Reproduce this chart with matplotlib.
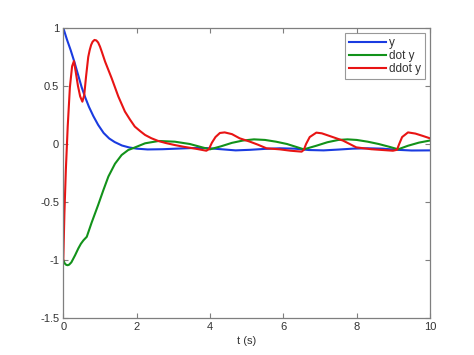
import matplotlib
matplotlib.use("Agg")
import matplotlib.pyplot as plt

# ---- data ----
t_y = [0, 0.1, 0.2, 0.3, 0.4, 0.5, 0.6, 0.7, 0.82, 0.95, 1.1, 1.25, 1.4, 1.6, 1.8, 2.0,
       2.3, 2.7, 3.1, 3.5, 3.9, 4.3, 4.7, 5.1, 5.5, 5.9, 6.3, 6.7, 7.1, 7.5, 7.9, 8.3,
       8.7, 9.1, 9.5, 10]
v_y = [1.0, 0.9, 0.81, 0.71, 0.6, 0.49, 0.4, 0.32, 0.24, 0.165, 0.095, 0.048, 0.017, -0.013,
       -0.03, -0.04, -0.047, -0.045, -0.04, -0.035, -0.035, -0.045, -0.055, -0.05, -0.042,
       -0.037, -0.04, -0.052, -0.055, -0.048, -0.04, -0.037, -0.04, -0.05, -0.056, -0.055]

t_dy = [0, 0.04, 0.08, 0.12, 0.16, 0.22, 0.32, 0.41, 0.48, 0.55, 0.64, 0.77, 0.95, 1.09,
        1.23, 1.41, 1.59, 1.77, 1.95, 2.23, 2.6, 3.04, 3.45, 3.8, 4.0, 4.3, 4.6, 4.9, 5.2,
        5.5, 5.8, 6.1, 6.4, 6.56, 6.9, 7.2, 7.5, 7.75, 8.0, 8.3, 8.6, 8.9, 9.13, 9.4, 9.7, 10]
v_dy = [-1.0, -1.03, -1.042, -1.045, -1.04, -1.02, -0.96, -0.9, -0.86, -0.83, -0.8, -0.68,
        -0.526, -0.4, -0.28, -0.17, -0.095, -0.052, -0.03, 0.006, 0.026, 0.02, 0.0, -0.03,
        -0.046, -0.02, 0.01, 0.03, 0.04, 0.035, 0.02, 0.0, -0.03, -0.046, -0.015, 0.015,
        0.035, 0.04, 0.035, 0.02, 0.0, -0.025, -0.046, -0.015, 0.012, 0.03]

t_ddy = [0, 0.03, 0.07, 0.12, 0.18, 0.24, 0.29, 0.34, 0.4, 0.46, 0.52, 0.57, 0.62, 0.68,
         0.72, 0.76, 0.8, 0.85, 0.9, 0.95, 1.0, 1.05, 1.14, 1.32, 1.5, 1.68, 1.82, 1.95,
         2.1, 2.23, 2.4, 2.59, 2.8, 3.04, 3.3, 3.6, 3.9, 3.97, 4.05, 4.15, 4.27, 4.4, 4.6,
         4.81, 5.09, 5.3, 5.54, 5.9, 6.2, 6.5, 6.56, 6.62, 6.72, 6.9, 7.05, 7.3, 7.63, 7.99,
         8.4, 8.99, 9.1, 9.16, 9.24, 9.4, 9.6, 9.8, 10]
v_ddy = [-1.0, -0.6, -0.22, 0.15, 0.49, 0.67, 0.715, 0.62, 0.5, 0.41, 0.365, 0.42, 0.58,
         0.75, 0.81, 0.855, 0.882, 0.897, 0.893, 0.875, 0.84, 0.795, 0.71, 0.566, 0.41,
         0.28, 0.21, 0.15, 0.11, 0.078, 0.05, 0.026, 0.008, -0.009, -0.025, -0.04, -0.058,
         -0.045, 0.01, 0.06, 0.095, 0.1, 0.085, 0.049, 0.02, -0.005, -0.037, -0.046, -0.058,
         -0.066, -0.05, 0.0, 0.06, 0.098, 0.092, 0.065, 0.029, -0.029, -0.045, -0.058, -0.05,
         0.0, 0.06, 0.1, 0.09, 0.07, 0.049]

labels = ["y", "dot y", "ddot y"]
x_ticks = [0, 2, 4, 6, 8, 10]
y_ticks = [-1.5, -1, -0.5, 0, 0.5, 1]
y_tick_labels = ["-1.5", "-1", "-0.5", "0", "0.5", "1"]

plt.rcParams['font.family'] = ['Liberation Sans', 'DejaVu Sans']

fig = plt.figure(figsize=(4.74, 3.55), dpi=100)
ax = fig.add_axes([63.3 / 474, 1 - 318 / 355, (430 - 63.3) / 474, (318 - 28) / 355])

ax.plot(t_y, v_y, color='#1a3be0', lw=1.5, label=labels[0])
ax.plot(t_dy, v_dy, color='#12921a', lw=1.5, label=labels[1])
ax.plot(t_ddy, v_ddy, color='#e81414', lw=1.5, label=labels[2])

ax.set_xlim(0, 10)
ax.set_ylim(-1.5, 1)
ax.set_xticks(x_ticks)
ax.set_xticklabels([str(v) for v in x_ticks])
ax.set_yticks(y_ticks)
ax.set_yticklabels(y_tick_labels)

for s in ax.spines.values():
    s.set_color('#7f7f7f')
    s.set_linewidth(0.9)
ax.tick_params(direction='in', length=3.5, width=0.8, colors='#7f7f7f',
               labelcolor='#333333', labelsize=8, top=True, right=True, pad=3)
ax.set_xlabel('t (s)', fontsize=8, color='#333333', labelpad=3)

leg = ax.legend(loc='upper right', fontsize=8.5, frameon=True, fancybox=False,
                borderaxespad=0.45, handlelength=3.1, handletextpad=0.3,
                labelspacing=0.1, borderpad=0.3)
leg.get_frame().set_edgecolor('#7f7f7f')
leg.get_frame().set_linewidth(0.8)
for txt in leg.get_texts():
    txt.set_color('#333333')

fig.savefig('out.png', dpi=100)
